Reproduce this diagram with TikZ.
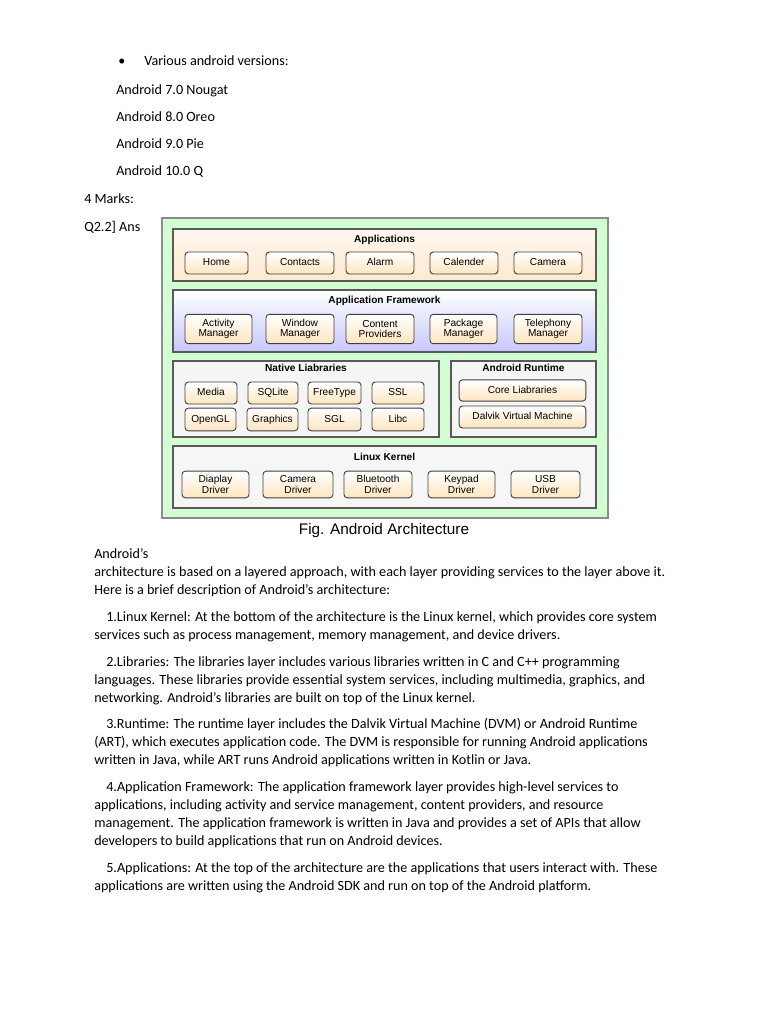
\documentclass[tikz,border=0pt]{standalone}
\usepackage{fontspec}
\setmainfont{Carlito}
\newfontfamily\arialf{Liberation Sans}
\begin{document}
\begin{tikzpicture}[x=0.75pt,y=-0.75pt,
  txt/.style={anchor=base west,inner sep=0pt,font=\fontsize{10.6}{12}\selectfont},
  layer/.style={draw=black!65,line width=0.8pt},
  comp/.style={draw=black!75,line width=0.7pt,rounded corners=2.5pt,top color=white,bottom color=yellow!18!orange!25,align=center,font=\arialf\fontsize{7.6}{7.8}\selectfont,inner sep=0pt},
  comp1/.style={comp,text height=5.6pt,text depth=1.6pt},
  ltitle/.style={font=\arialf\bfseries\fontsize{7.6}{8}\selectfont,inner sep=0pt}]
\path[use as bounding box,fill=white] (0,0) rectangle (768,1024);
% outer
\draw[fill=green!18,draw=black!45,line width=0.8pt] (162,218) rectangle (608,518);
\path[top color=orange!6,bottom color=orange!18] (173,229) rectangle (596,281);
\draw[layer] (173,229) rectangle (596,281);
\path[top color=white,bottom color=blue!22] (173,290) rectangle (596,352);
\draw[layer] (173,290) rectangle (596,352);
\path[fill=black!4] (173,361) rectangle (439,437);
\draw[layer] (173,361) rectangle (439,437);
\path[fill=black!4] (451,361) rectangle (596,437);
\draw[layer] (451,361) rectangle (596,437);
\path[fill=green!10!black!4] (173,446) rectangle (596,508);
\draw[layer] (173,446) rectangle (596,508);
\node[ltitle] (tapp) at (384.5,240) {Applications};
\node[ltitle] (tfw) at (384.5,301) {Application Framework};
\node[ltitle] (tnat) at (306,368) {Native Liabraries};
\node[ltitle] (trt) at (523.5,368) {Android Runtime};
\node[ltitle] (tlk) at (384.5,457) {Linux Kernel};
% apps
\foreach \n/\a/\b/\t in {ah/185/248/Home,ac/266/334/Contacts,aa/346/414/Alarm,acl/430/498/Calender,acm/514/582/Camera}
  \node[comp1,minimum width={(\b-\a)*0.75pt},minimum height=16.5pt] (\n) at ({(\a+\b)/2},263) {\t};
\foreach \n/\a/\b/\t in {fa/185/252/{Activity\\Manager},fw/266/334/{Window\\Manager},fc/346/414/{Content\\Providers},fp/430/497/{Package\\Manager},ft/514/582/{Telephony\\Manager}}
  \node[comp,minimum width={(\b-\a)*0.75pt},minimum height=22pt] (\n) at ({(\a+\b)/2},329) {\t};
\foreach \n/\a/\b/\t in {nm/185/237/Media,ns/248/298/SQLite,nf/308/361/FreeType,nl/372/424/SSL}
  \node[comp1,minimum width={(\b-\a)*0.75pt},minimum height=16.5pt] (\n) at ({(\a+\b)/2},393) {\t};
\foreach \n/\a/\b/\t in {no/185/236/OpenGL,ng/247/298/Graphics,nq/308/361/SGL,nc/372/424/Libc}
  \node[comp1,minimum width={(\b-\a)*0.75pt},minimum height=17pt] (\n) at ({(\a+\b)/2},419.5) {\t};
\node[comp1,minimum width=95pt,minimum height=16pt] (rc) at (522.5,390.5) {Core Liabraries};
\node[comp1,minimum width=95pt,minimum height=16.5pt] (rd) at (522.5,417) {Dalvik Virtual Machine};
\foreach \n/\a/\b/\t in {kd/182/249/{Diaplay\\Driver},kc/263/333/{Camera\\Driver},kb/344/412/{Bluetooth\\Driver},kk/428/495/{Keypad\\Driver},ku/511/580/{USB\\Driver}}
  \node[comp,minimum width={(\b-\a)*0.75pt},minimum height=20pt] (\n) at ({(\a+\b)/2},484.5) {\t};
\node[font=\arialf\fontsize{11.5}{12}\selectfont,inner sep=0pt] (cap) at (384,531) {Fig. Android Architecture};
% text
\node[inner sep=0pt] (bul) at (122,62) {\fontsize{10.6}{12}\selectfont\textbullet};
\node[txt] (t0) at (144,66) {Various android versions:};
\node[txt] (t1) at (116,94) {Android 7.0 Nougat};
\node[txt] (t2) at (116,121) {Android 8.0 Oreo};
\node[txt] (t3) at (116,148) {Android 9.0 Pie};
\node[txt] (t4) at (116,175) {Android 10.0 Q};
\node[txt] (t5) at (84,203) {4 Marks:};
\node[txt] (t6) at (84,231) {Q2.2] Ans};
\node[txt] (p0) at (94,558) {Android's};
\node[txt] (p1) at (94,576) {architecture is based on a layered approach, with each layer providing services to the layer above it.};
\node[txt] (p2) at (94,594) {Here is a brief description of Android's architecture:};
\node[txt] (p3) at (106,621) {1.Linux Kernel: At the bottom of the architecture is the Linux kernel, which provides core system};
\node[txt] (p4) at (94,639) {services such as process management, memory management, and device drivers.};
\node[txt] (p5) at (106,666) {2.Libraries: The libraries layer includes various libraries written in C and C++ programming};
\node[txt] (p6) at (94,684) {languages. These libraries provide essential system services, including multimedia, graphics, and};
\node[txt] (p7) at (94,702) {networking. Android's libraries are built on top of the Linux kernel.};
\node[txt] (p8) at (106,728) {3.Runtime: The runtime layer includes the Dalvik Virtual Machine (DVM) or Android Runtime};
\node[txt] (p9) at (94,746) {(ART), which executes application code. The DVM is responsible for running Android applications};
\node[txt] (p10) at (94,764) {written in Java, while ART runs Android applications written in Kotlin or Java.};
\node[txt] (p11) at (106,791) {4.Application Framework: The application framework layer provides high-level services to};
\node[txt] (p12) at (94,809) {applications, including activity and service management, content providers, and resource};
\node[txt] (p13) at (94,827) {management. The application framework is written in Java and provides a set of APIs that allow};
\node[txt] (p14) at (94,845) {developers to build applications that run on Android devices.};
\node[txt] (p15) at (106,872) {5.Applications: At the top of the architecture are the applications that users interact with. These};
\node[txt] (p16) at (94,890) {applications are written using the Android SDK and run on top of the Android platform.};
\end{tikzpicture}
\end{document}
